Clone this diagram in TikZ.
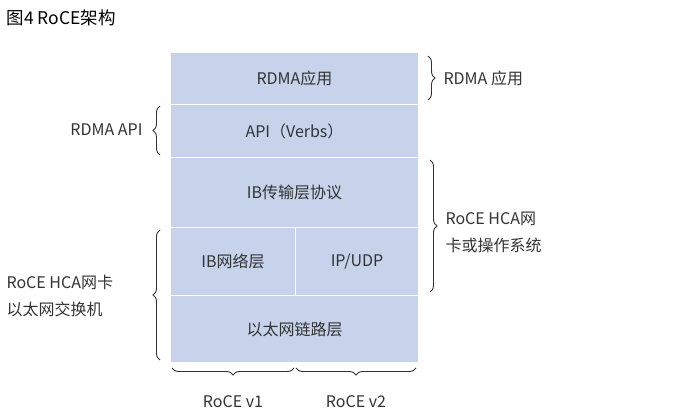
\documentclass[tikz,border=0pt]{standalone}
\usepackage{fontspec}
\setmainfont{Noto Sans CJK SC}
\usetikzlibrary{decorations.pathreplacing}
\definecolor{layer}{HTML}{C6D3EA}
\definecolor{txt}{HTML}{333333}
\begin{document}
\begin{tikzpicture}[x=1pt,y=1pt,yscale=-1,
  lay/.style={fill=layer,draw=white,line width=1pt,font=\fontsize{16}{18}\selectfont,text=txt},
  br/.style={draw=black!80,line width=0.9pt,decorate,decoration={brace,amplitude=7pt}},
  lbl/.style={font=\fontsize{16}{27}\selectfont,text=txt,align=left}]
\useasboundingbox (0,0) rectangle (698,419);
\node[lbl,anchor=west,font=\fontsize{17.5}{20}\selectfont,text=black] (title) at (3,18) {图4 RoCE架构};
% layers
\node[lay,minimum width=248,minimum height=52,anchor=north west] (app) at (170,52) {RDMA应用};
\node[lay,minimum width=248,minimum height=53,anchor=north west] (api) at (170,104) {API（Verbs）};
\node[lay,minimum width=248,minimum height=70,anchor=north west] (ib) at (170,157) {IB传输层协议};
\node[lay,minimum width=125,minimum height=68,anchor=north west] (ibn) at (170,227) {IB网络层};
\node[lay,minimum width=123,minimum height=68,anchor=north west] (ip) at (295,227) {IP/UDP};
\node[lay,minimum width=248,minimum height=67,anchor=north west] (eth) at (170,295) {以太网链路层};
% braces
\coordinate (a1) at (428,56); \coordinate (a2) at (428,100);
\draw[br] (a1) -- (a2);
\node[lbl,anchor=west] (la) at (440,78) {RDMA 应用};
\coordinate (b1) at (160,155); \coordinate (b2) at (160,106);
\draw[br] (b1) -- (b2);
\node[lbl,anchor=east] (lb) at (146,130) {RDMA API};
\coordinate (c1) at (430,160); \coordinate (c2) at (430,292);
\draw[br] (c1) -- (c2);
\node[lbl,anchor=west] (lc) at (442,232) {RoCE HCA网\\卡或操作系统};
\coordinate (d1) at (160,360); \coordinate (d2) at (160,230);
\draw[br] (d1) -- (d2);
\node[lbl,anchor=west] (ld) at (3,296) {RoCE HCA网卡\\以太网交换机};
\coordinate (e1) at (294,368); \coordinate (e2) at (172,368);
\draw[br] (e1) -- (e2);
\node[lbl] (le) at (233,402) {RoCE v1};
\coordinate (f1) at (416,368); \coordinate (f2) at (296,368);
\draw[br] (f1) -- (f2);
\node[lbl] (lf) at (356,402) {RoCE v2};
\end{tikzpicture}
\end{document}
